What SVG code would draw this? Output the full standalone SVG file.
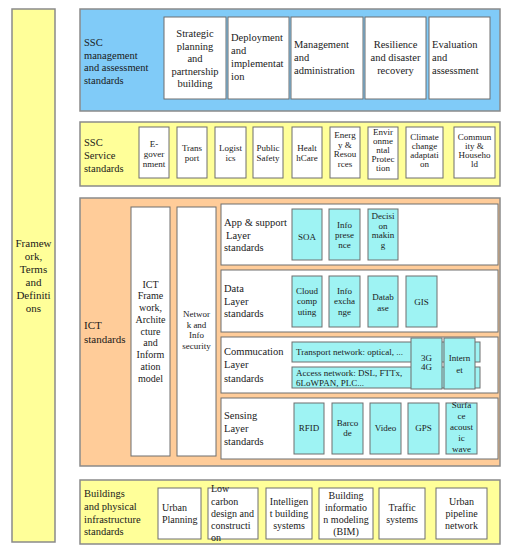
<svg xmlns="http://www.w3.org/2000/svg" width="511" height="550" viewBox="0 0 511 550" font-family="'Liberation Serif', 'Times New Roman', serif">
<style>
text{font-family:'Liberation Serif','Times New Roman',serif;fill:#1a1a1a;font-size:10.5px}
.c{text-anchor:middle}
.s9{font-size:9px}
.s10{font-size:10px}
.s11{font-size:11px}
.panel{stroke:#8a8a8a;stroke-width:1.5}
.box{fill:#fff;stroke:#6e6e6e;stroke-width:1}
.cy{fill:#9ef3f3;stroke:#6e6e6e;stroke-width:1}
.yel{fill:#ffff99}
.blu{fill:#80cbf8}
.org{fill:#ffcc99}
</style>
<rect width="511" height="550" fill="#fff"/>

<g id="framework">
<rect class="panel yel" x="12" y="9" width="43" height="533"/>
<text class="c s11"><tspan x="33.5" y="247">Framew</tspan><tspan x="33.5" y="260">ork,</tspan><tspan x="33.5" y="273">Terms</tspan><tspan x="33.5" y="286">and</tspan><tspan x="33.5" y="299">Definiti</tspan><tspan x="33.5" y="312">ons</tspan></text>
</g>

<g id="ssc-management">
<rect class="panel blu" x="80" y="9" width="420" height="102"/>
<text><tspan x="84" y="46">SSC</tspan><tspan x="84" y="58.5">management</tspan><tspan x="84" y="71">and assessment</tspan><tspan x="84" y="84">standards</tspan></text>
</g>
<g id="strategic">
<rect class="box" x="164" y="17" width="62" height="82"/>
<text class="c"><tspan x="195" y="37">Strategic</tspan><tspan x="195" y="49.5">planning</tspan><tspan x="195" y="62">and</tspan><tspan x="195" y="74.5">partnership</tspan><tspan x="195" y="87">building</tspan></text>
</g>
<g id="deployment">
<rect class="box" x="228" y="17" width="61" height="82"/>
<text><tspan x="231" y="41">Deployment</tspan><tspan x="231" y="54">and</tspan><tspan x="231" y="67">implementat</tspan><tspan x="231" y="80">ion</tspan></text>
</g>
<g id="management">
<rect class="box" x="291" y="17" width="72" height="82"/>
<text><tspan x="294" y="48">Management</tspan><tspan x="294" y="61">and</tspan><tspan x="294" y="74">administration</tspan></text>
</g>
<g id="resilience">
<rect class="box" x="365" y="17" width="61" height="82"/>
<text class="c"><tspan x="395.5" y="48">Resilience</tspan><tspan x="395.5" y="61">and disaster</tspan><tspan x="395.5" y="74">recovery</tspan></text>
</g>
<g id="evaluation">
<rect class="box" x="429" y="17" width="61" height="82"/>
<text><tspan x="432" y="48">Evaluation</tspan><tspan x="432" y="61">and</tspan><tspan x="432" y="74">assessment</tspan></text>
</g>

<g id="ssc-service">
<rect class="panel yel" x="80" y="122" width="420" height="64"/>
<text><tspan x="84" y="146">SSC</tspan><tspan x="84" y="159">Service</tspan><tspan x="84" y="171.5">standards</tspan></text>
</g>
<g id="egov"><rect class="box" x="139" y="127" width="30" height="51"/>
<text class="c s9"><tspan x="154" y="147">E-</tspan><tspan x="154" y="157">gover</tspan><tspan x="154" y="166.5">nment</tspan></text></g>
<g id="transport"><rect class="box" x="177" y="127" width="30" height="51"/>
<text class="c s9"><tspan x="192" y="151">Trans</tspan><tspan x="192" y="161">port</tspan></text></g>
<g id="logistics"><rect class="box" x="215" y="127" width="31" height="51"/>
<text class="c s9"><tspan x="230.5" y="151">Logist</tspan><tspan x="230.5" y="161">ics</tspan></text></g>
<g id="public-safety"><rect class="box" x="253" y="127" width="30" height="51"/>
<text class="c s9"><tspan x="268" y="151">Public</tspan><tspan x="268" y="161">Safety</tspan></text></g>
<g id="healthcare"><rect class="box" x="292" y="127" width="30" height="51"/>
<text class="c s9"><tspan x="307" y="151">Healt</tspan><tspan x="307" y="160.5">hCare</tspan></text></g>
<g id="energy"><rect class="box" x="330" y="127" width="30" height="51"/>
<text class="c s9"><tspan x="345" y="138">Energ</tspan><tspan x="345" y="147.5">y &amp;</tspan><tspan x="345" y="157">Resou</tspan><tspan x="345" y="166.5">rces</tspan></text></g>
<g id="environmental"><rect class="box" x="368" y="127" width="30" height="52"/>
<text class="c s9"><tspan x="383" y="135">Envir</tspan><tspan x="383" y="144">onme</tspan><tspan x="383" y="153">ntal</tspan><tspan x="383" y="162">Protec</tspan><tspan x="383" y="171">tion</tspan></text></g>
<g id="climate"><rect class="box" x="406" y="127" width="37" height="51"/>
<text class="c s9"><tspan x="424.5" y="140">Climate</tspan><tspan x="424.5" y="149">change</tspan><tspan x="424.5" y="158">adaptati</tspan><tspan x="424.5" y="167">on</tspan></text></g>
<g id="community"><rect class="box" x="454" y="127" width="41" height="51"/>
<text class="c s9"><tspan x="474.5" y="140">Commun</tspan><tspan x="474.5" y="149">ity &amp;</tspan><tspan x="474.5" y="158">Househo</tspan><tspan x="474.5" y="167">ld</tspan></text></g>

<g id="ict">
<rect class="panel org" x="80" y="198" width="420" height="268"/>
<text class="s11"><tspan x="84" y="329">ICT</tspan><tspan x="84" y="343">standards</tspan></text>
</g>
<g id="ict-framework"><rect class="box" x="131" y="207" width="39" height="249"/>
<text class="c s10"><tspan x="150.5" y="287.5">ICT</tspan><tspan x="150.5" y="299.3">Frame</tspan><tspan x="150.5" y="311">work,</tspan><tspan x="150.5" y="322.8">Archite</tspan><tspan x="150.5" y="334.5">cture</tspan><tspan x="150.5" y="346.3">and</tspan><tspan x="150.5" y="358">Inform</tspan><tspan x="150.5" y="369.8">ation</tspan><tspan x="150.5" y="381.5">model</tspan></text></g>
<g id="network-security"><rect class="box" x="177" y="207" width="39" height="249"/>
<text class="c s9"><tspan x="196.5" y="317">Networ</tspan><tspan x="196.5" y="327.5">k and</tspan><tspan x="196.5" y="338">Info</tspan><tspan x="196.5" y="348.5">security</tspan></text></g>

<g id="app-layer"><rect class="box" x="221" y="204" width="277" height="61"/>
<text><tspan x="224" y="226">App &amp; support</tspan><tspan x="226" y="238.5">Layer</tspan><tspan x="224" y="251">standards</tspan></text></g>
<g id="soa"><rect class="cy" x="292" y="209" width="30" height="51"/><text class="c s9" x="307" y="240">SOA</text></g>
<g id="info-presence"><rect class="cy" x="329" y="209" width="31" height="51"/>
<text class="c s9"><tspan x="344.5" y="227.5">Info</tspan><tspan x="344.5" y="237.5">prese</tspan><tspan x="344.5" y="248">nce</tspan></text></g>
<g id="decision"><rect class="cy" x="368" y="209" width="30" height="51"/>
<text class="c s9"><tspan x="383" y="219">Decisi</tspan><tspan x="383" y="228.5">on</tspan><tspan x="383" y="238">makin</tspan><tspan x="383" y="247.5">g</tspan></text></g>

<g id="data-layer"><rect class="box" x="221" y="270" width="277" height="62"/>
<text><tspan x="224" y="292">Data</tspan><tspan x="224" y="304.5">Layer</tspan><tspan x="224" y="317">standards</tspan></text></g>
<g id="cloud"><rect class="cy" x="292" y="276" width="30" height="51"/>
<text class="c s9"><tspan x="307" y="293.5">Cloud</tspan><tspan x="307" y="304">comp</tspan><tspan x="307" y="315">uting</tspan></text></g>
<g id="info-exchange"><rect class="cy" x="329" y="276" width="31" height="51"/>
<text class="c s9"><tspan x="344.5" y="293.5">Info</tspan><tspan x="344.5" y="304">excha</tspan><tspan x="344.5" y="315">nge</tspan></text></g>
<g id="database"><rect class="cy" x="368" y="276" width="30" height="51"/>
<text class="c s9"><tspan x="383" y="300">Datab</tspan><tspan x="383" y="310.5">ase</tspan></text></g>
<g id="gis"><rect class="cy" x="406" y="276" width="31" height="51"/><text class="c s9" x="421.5" y="305">GIS</text></g>

<g id="comm-layer"><rect class="box" x="221" y="337" width="277" height="56"/>
<text><tspan x="224" y="355">Commucation</tspan><tspan x="224" y="368">Layer</tspan><tspan x="224" y="381.5">standards</tspan></text></g>
<g id="transport-network"><rect class="cy" x="292" y="342" width="188" height="20"/>
<text class="s9" x="296" y="355">Transport network: optical, ...</text></g>
<g id="access-network"><rect class="cy" x="292" y="367" width="188" height="21"/>
<text class="s9"><tspan x="296" y="376">Access network: DSL, FTTx,</tspan><tspan x="296" y="386">6LoWPAN, PLC...</tspan></text></g>
<g id="g3g4"><rect class="cy" x="411" y="338" width="31" height="51"/>
<text class="c s9"><tspan x="426.5" y="361">3G</tspan><tspan x="426.5" y="370">4G</tspan></text></g>
<g id="internet"><rect class="cy" x="444" y="338" width="31" height="51"/>
<text class="c s9"><tspan x="459.5" y="361">Intern</tspan><tspan x="459.5" y="373">et</tspan></text></g>

<g id="sensing-layer"><rect class="box" x="221" y="398" width="277" height="61"/>
<text><tspan x="224" y="419">Sensing</tspan><tspan x="224" y="432">Layer</tspan><tspan x="224" y="445">standards</tspan></text></g>
<g id="rfid"><rect class="cy" x="294" y="403" width="30" height="51"/><text class="c s9" x="309" y="431">RFID</text></g>
<g id="barcode"><rect class="cy" x="332" y="403" width="31" height="51"/>
<text class="c s9"><tspan x="347.5" y="426">Barco</tspan><tspan x="347.5" y="436">de</tspan></text></g>
<g id="video"><rect class="cy" x="370" y="403" width="31" height="51"/><text class="c s9" x="385.5" y="431">Video</text></g>
<g id="gps"><rect class="cy" x="408" y="403" width="31" height="51"/><text class="c s9" x="423.5" y="431">GPS</text></g>
<g id="surface-wave"><rect class="cy" x="446" y="403" width="31" height="51"/>
<text class="c s9"><tspan x="461.5" y="408">Surfa</tspan><tspan x="461.5" y="419">ce</tspan><tspan x="461.5" y="430">acoust</tspan><tspan x="461.5" y="441">ic</tspan><tspan x="461.5" y="452">wave</tspan></text></g>

<g id="buildings">
<rect class="panel yel" x="80" y="480" width="420" height="64"/>
<text><tspan x="84" y="497">Buildings</tspan><tspan x="84" y="510">and physical</tspan><tspan x="84" y="522.5">infrastructure</tspan><tspan x="84" y="535">standards</tspan></text>
</g>
<g id="urban-planning"><rect class="box" x="158" y="488" width="43" height="51"/>
<text class="s10"><tspan x="162" y="511">Urban</tspan><tspan x="162" y="522.5">Planning</tspan></text></g>
<g id="low-carbon"><rect class="box" x="208" y="488" width="50" height="51"/>
<text class="s10"><tspan x="211" y="492">Low</tspan><tspan x="211" y="504.5">carbon</tspan><tspan x="211" y="516.5">design and</tspan><tspan x="211" y="528.5">constructi</tspan><tspan x="211" y="540.5">on</tspan></text></g>
<g id="intelligent"><rect class="box" x="266" y="488" width="46" height="51"/>
<text class="c s10"><tspan x="289" y="505">Intelligen</tspan><tspan x="289" y="517">t building</tspan><tspan x="289" y="529">systems</tspan></text></g>
<g id="bim"><rect class="box" x="319" y="488" width="54" height="51"/>
<text class="c s10"><tspan x="346" y="498.5">Building</tspan><tspan x="346" y="510.5">informatio</tspan><tspan x="346" y="522.5">n modeling</tspan><tspan x="346" y="535">(BIM)</tspan></text></g>
<g id="traffic"><rect class="box" x="379" y="488" width="46" height="51"/>
<text class="c s10"><tspan x="402" y="511">Traffic</tspan><tspan x="402" y="523">systems</tspan></text></g>
<g id="urban-pipeline"><rect class="box" x="436" y="488" width="51" height="51"/>
<text class="c s10"><tspan x="461.5" y="505">Urban</tspan><tspan x="461.5" y="517">pipeline</tspan><tspan x="461.5" y="529">network</tspan></text></g>
</svg>
